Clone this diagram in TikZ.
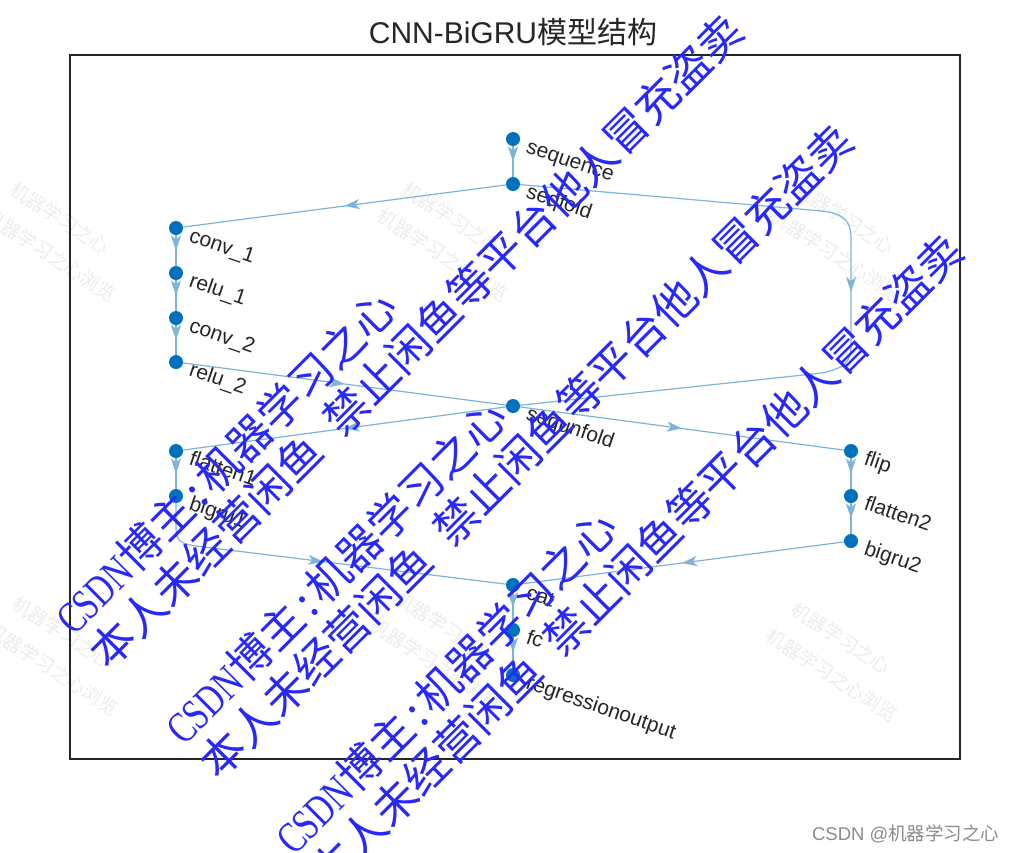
\documentclass[tikz,border=0pt]{standalone}
\usepackage{fontspec}
\setmainfont{Liberation Sans}
\newfontfamily\cjk{Noto Sans CJK SC}
\newfontfamily\wmlatin[FakeStretch=0.75]{Liberation Serif}
\usetikzlibrary{calc,arrows.meta,decorations.markings,backgrounds}

\definecolor{nodeblue}{RGB}{0,114,189}
\definecolor{edgeblue}{RGB}{125,180,218}
\definecolor{wmblue}{RGB}{40,40,250}
\definecolor{txtgray}{RGB}{38,38,38}

\tikzset{
  dot/.style={circle,fill=nodeblue,inner sep=0pt,minimum size=14pt},
  lbl/.style={anchor=base west,rotate=-19,inner sep=0pt,text=txtgray,
    font=\fontsize{21}{24}\selectfont},
  edge/.style={draw=edgeblue,line width=1.2pt,postaction={decorate},
    decoration={markings,mark=at position 0.5 with
      {\arrow[edgeblue]{Stealth[length=15pt,width=10pt,inset=4pt]}}}},
  wm/.style={anchor=west,rotate=45,inner sep=0pt,text=wmblue,
    font=\fontsize{44}{50}\selectfont\cjk},
  wmgray/.style={rotate=-33,inner sep=0pt,text=black!7,
    font=\fontsize{19}{22}\selectfont\cjk}
}

\begin{document}
\begin{tikzpicture}[x=1pt,y=-1pt]
\useasboundingbox (0,0) rectangle (1019,852);

\begin{scope}
\node[dot] (sequence) at (513,139) {};
\node[dot] (seqfold) at (513,184) {};
\node[dot] (conv1) at (176,228) {};
\node[dot] (relu1) at (176,273) {};
\node[dot] (conv2) at (176,318) {};
\node[dot] (relu2) at (176,362) {};
\node[dot] (sequnfold) at (513,406) {};
\node[dot] (flatten1) at (176,451) {};
\node[dot] (bigru1) at (176,496) {};
\node[dot] (flip) at (851,451) {};
\node[dot] (flatten2) at (851,496) {};
\node[dot] (bigru2) at (851,541) {};
\node[dot] (cat) at (513,585) {};
\node[dot] (fc) at (513,630) {};
\node[dot] (regout) at (513,675) {};

\node[lbl] (sequence-l) at ($(sequence)+(12,13)$) {sequence};
\node[lbl] (seqfold-l) at ($(seqfold)+(12,13)$) {seqfold};
\node[lbl] (conv1-l) at ($(conv1)+(12,13)$) {conv\_1};
\node[lbl] (relu1-l) at ($(relu1)+(12,13)$) {relu\_1};
\node[lbl] (conv2-l) at ($(conv2)+(12,13)$) {conv\_2};
\node[lbl] (relu2-l) at ($(relu2)+(12,13)$) {relu\_2};
\node[lbl] (sequnfold-l) at ($(sequnfold)+(12,13)$) {sequnfold};
\node[lbl] (flatten1-l) at ($(flatten1)+(12,13)$) {flatten1};
\node[lbl] (bigru1-l) at ($(bigru1)+(12,13)$) {bigru1};
\node[lbl] (flip-l) at ($(flip)+(12,13)$) {flip};
\node[lbl] (flatten2-l) at ($(flatten2)+(12,13)$) {flatten2};
\node[lbl] (bigru2-l) at ($(bigru2)+(12,13)$) {bigru2};
\node[lbl] (cat-l) at ($(cat)+(12,13)$) {cat};
\node[lbl] (fc-l) at ($(fc)+(12,13)$) {fc};
\node[lbl] (regout-l) at ($(regout)+(12,13)$) {regressionoutput};
\end{scope}

\begin{pgfonlayer}{background}
\fill[white] (0,0) rectangle (1019,852);
\foreach \gx/\gy [count=\i] in {60/218,452/218,845/218,62/632,445/627,841/638} {
  \node[wmgray] (gray\i a) at (\gx,\gy) {机器学习之心};
  \node[wmgray] (gray\i b) at (\gx-9,\gy+37) {机器学习之心浏览};
}
\draw[txtgray,line width=1.1pt] (70,55) rectangle (960,759);

\draw[edge] (sequence) -- (seqfold);
\draw[edge] (seqfold) -- (conv1);
\draw[edge] (conv1) -- (relu1);
\draw[edge] (relu1) -- (conv2);
\draw[edge] (conv2) -- (relu2);
\draw[edge] (relu2) -- (sequnfold);
\draw[edge] (seqfold) -- (822,211) .. controls (846,214) and (851,222) .. (851,240)
  -- (851,345) .. controls (851,362) and (845,368) .. (822,373) -- (sequnfold);
\draw[edge] (sequnfold) -- (flatten1);
\draw[edge] (sequnfold) -- (flip);
\draw[edge] (flatten1) -- (bigru1);
\draw[edge] (flip) -- (flatten2);
\draw[edge] (flatten2) -- (bigru2);
\draw[edge] (bigru1) -- (176,528) .. controls (176,541) and (181,544) .. (196,546) -- (cat);
\draw[edge] (bigru2) -- (cat);
\draw[edge] (cat) -- (fc);
\draw[edge] (fc) -- (regout);
\end{pgfonlayer}

\node[anchor=base,text=txtgray,font=\fontsize{30}{34}\selectfont] (title) at (513,43)
  {CNN-BiGRU{\cjk 模型结构}};
\node[anchor=base east,text=black!45,font=\fontsize{18.5}{22}\selectfont] (csdn) at (1003,840)
  {CSDN @{\cjk 机器学习之心}};

\node[wm] (wm1a) at (62,625) {{\wmlatin CSDN}博主\makebox[0.5em]{:}机器学习之心};
\node[wm] (wm1b) at (97,660) {本人未经营闲鱼\hspace{0.5em}禁止闲鱼等平台他人冒充盗卖};
\node[wm] (wm2a) at (172,735) {{\wmlatin CSDN}博主\makebox[0.5em]{:}机器学习之心};
\node[wm] (wm2b) at (207,770) {本人未经营闲鱼\hspace{0.5em}禁止闲鱼等平台他人冒充盗卖};
\node[wm] (wm3a) at (282,845) {{\wmlatin CSDN}博主\makebox[0.5em]{:}机器学习之心};
\node[wm] (wm3b) at (317,880) {本人未经营闲鱼\hspace{0.5em}禁止闲鱼等平台他人冒充盗卖};

\end{tikzpicture}
\end{document}
